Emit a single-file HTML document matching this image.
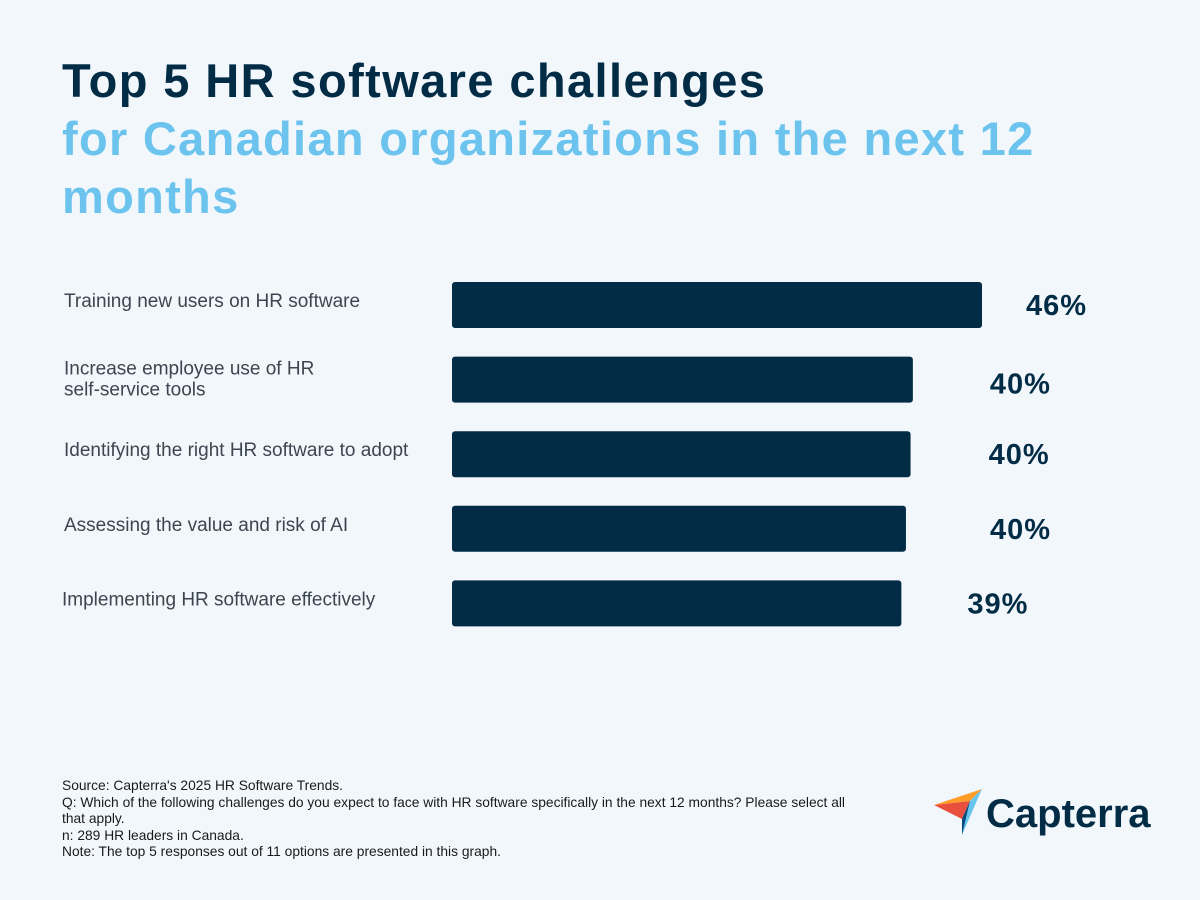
<!DOCTYPE html>
<html><head><meta charset="utf-8"><style>
body{margin:0;width:1200px;height:900px;background:#f2f7fc;font-family:"Liberation Sans",sans-serif;position:relative;overflow:hidden}
.t{position:absolute;left:62px;font-weight:bold;font-size:47px;line-height:58px}
.foot{position:absolute;left:62px;top:778px;font-size:13.8px;line-height:16.5px;color:#1a1a1a;width:800px}
</style></head><body>
<div class="t" style="top:52px;color:#022c45;letter-spacing:1.4px">Top 5 HR software challenges</div>
<div class="t" style="top:110px;color:#6cc4ee;width:1000px;letter-spacing:1.3px">for Canadian organizations in the next 12 months</div>
<svg id="chart" width="1200" height="900" style="position:absolute;left:0;top:0"></svg>
<div class="foot">Source: Capterra's 2025 HR Software Trends.<br>Q: Which of the following challenges do you expect to face with HR software specifically in the next 12 months? Please select all that apply.<br>n: 289 HR leaders in Canada.<br>Note: The top 5 responses out of 11 options are presented in this graph.</div>
<svg width="230" height="60" style="position:absolute;left:930px;top:785px">
<polygon points="4,20 40,16 32,34" fill="#e94f3d"/>
<polygon points="4,20 52,4 40,16" fill="#ff9d28"/>
<polygon points="40,16 52,4 32,50" fill="#68c5ed"/>
<polygon points="32,34 40,16 32,50" fill="#044d80"/>
<text x="56" y="42" font-size="40" font-weight="bold" fill="#022c45" font-family="Liberation Sans, sans-serif">Capterra</text>
</svg>
<script>
const categories=[["Training new users on HR software"],["Increase employee use of HR","self-service tools"],["Identifying the right HR software to adopt"],["Assessing the value and risk of AI"],["Implementing HR software effectively"]];
const values=[46,40,39.8,39.4,39];
const valueLabels=["46%","40%","40%","40%","39%"];
const svg=document.getElementById('chart');const NS='http://www.w3.org/2000/svg';
const x0=452,scale=530/46,y0=282,pitch=74.6,bh=46;
const xs=v=>v*scale, ys=i=>y0+i*pitch;
const offs=[44,77,78,84,66];
values.forEach((v,i)=>{
 const r=document.createElementNS(NS,'rect');
 
 
 r.setAttribute('x',x0);r.setAttribute('y',ys(i));r.setAttribute('width',xs(v));r.setAttribute('height',bh);r.setAttribute('rx',3);r.setAttribute('fill','#022c45');svg.appendChild(r);
 const t=document.createElementNS(NS,'text');
 
 
 t.setAttribute('x',x0+xs(v)+offs[i]);t.setAttribute('y',ys(i)+bh/2+10+(i==1?4:0));t.setAttribute('font-size','29');t.setAttribute('font-weight','bold');t.setAttribute('fill','#022c45');t.setAttribute('letter-spacing','1');t.textContent=valueLabels[i];svg.appendChild(t);
 const c=document.createElementNS(NS,'text');
 
 
 const lines=categories[i];
 c.setAttribute('x',i==4?62:64);c.setAttribute('font-size','19');c.setAttribute('fill','#3d4650');
 const cy=ys(i)+bh/2+(lines.length>1?-1:-4)-(lines.length-1)*10;
 lines.forEach((l,j)=>{const ts=document.createElementNS(NS,'tspan');ts.setAttribute('x',i==4?62:64);ts.setAttribute('y',cy+6+j*21);ts.textContent=l;c.appendChild(ts);});
 svg.appendChild(c);
});
</script>
</body></html>
